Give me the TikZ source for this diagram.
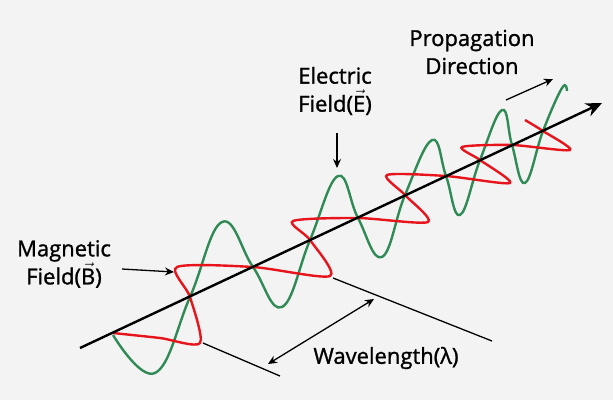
\documentclass[tikz,border=0pt]{standalone}
\usepackage{fontspec}
\usepackage{amsmath}
\usetikzlibrary{arrows.meta}
\setmainfont{Open Sans}
\begin{document}
\begin{tikzpicture}[x=1pt,y=-1pt,
  lbl/.style={align=center,font=\fontsize{22}{28}\selectfont\addfontfeature{FakeBold=1.2}},
  ar/.style={-{Stealth[length=9pt,width=8pt]},line width=1.3pt},
  thin/.style={line width=1.3pt}]
\definecolor{bg}{HTML}{F3F3F3}
\definecolor{eg}{HTML}{2F8A55}
\definecolor{br}{HTML}{E8141C}
\fill[bg] (0,0) rectangle (613,400);
\useasboundingbox (0,0) rectangle (613,400);
% green E wave
\draw[eg,line width=2.4pt] plot[smooth,tension=0.7] coordinates {(113,335) (155,373) (190,297) (222,222) (253,267) (282,307) (310,240) (338,176) (358,218) (382,257) (405,195) (432,140) (446,176) (460,215) (480,160) (502,110) (512,145) (525,183) (543,131) (562,88) (567,91)};
% red B wave
\draw[br,line width=2.4pt] plot[smooth,tension=0.45] coordinates {(113,333) (160,338) (200,343) (190,297) (177,267) (253,267) (330,276) (310,240) (293,221) (358,218) (428,222) (405,195) (387,175) (446,176) (510,183) (480,160) (462,147) (512,145) (570,150) (543,131) (525,120)};
% axis
\coordinate (a0) at (80,348);
\coordinate (a1) at (602,103);
\draw[-{Stealth[length=16pt,width=14pt]},line width=2.4pt] (a0) -- (a1);
% labels
\node[lbl] (prop) at (472,52) {Propagation\\Direction};
\coordinate (p0) at (506,100); \coordinate (p1) at (553,79);
\draw[ar] (p0) -- (p1);
\node[lbl] (ef) at (335,91) {Electric\\Field($\vec{\text{E}}$)};
\coordinate (e1) at (337,168);
\draw[ar] (337,133) -- (e1);
\node[lbl] (mf) at (64,264) {Magnetic\\Field($\vec{\text{B}}$)};
\coordinate (m1) at (174,272);
\draw[ar] (122,269) -- (m1);
\node[lbl] (wl) at (386,358) {Wavelength(λ)};
\coordinate (w0) at (268,364); \coordinate (w1) at (374,299);
\draw[{Stealth[length=9pt,width=8pt]}-{Stealth[length=9pt,width=8pt]},line width=1.3pt] (w0) -- (w1);
\coordinate (l0) at (203,343); \coordinate (l1) at (280,376);
\coordinate (l2) at (333,278); \coordinate (l3) at (492,341);
\draw[thin] (l0) -- (l1);
\draw[thin] (l2) -- (l3);
\end{tikzpicture}
\end{document}
